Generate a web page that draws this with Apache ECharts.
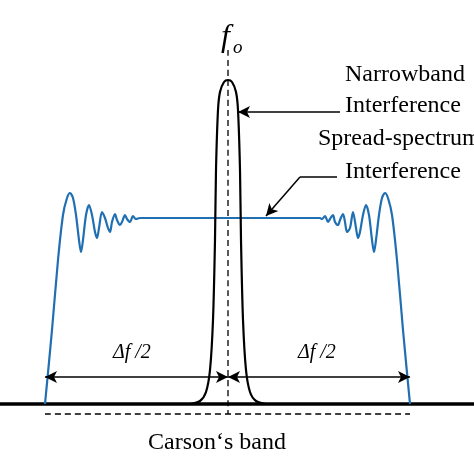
<!DOCTYPE html>
<html>
<head>
<meta charset="utf-8">
<script src="https://cdn.jsdelivr.net/npm/echarts@6/dist/echarts.min.js"></script>
<style>html,body{margin:0;background:#fff}#c{width:474px;height:474px}</style>
</head>
<body>
<div id="c"></div>
<script>
// 扩频干扰（蓝线），坐标 [x, y]，y 从上往下
var spreadLeft = [[45,404],[52,330],[58,260],[63,215],[67,198],[70,193],[73,198],[76,215],[79,240],[81,252],[83,240],[86,215],[89,205],[92,215],[95,232],[97,238],[99,228],[102,212],[105,218],[108,228],[110,232],[112,222],[115,214],[117,220],[120,225],[122,222],[125,215],[127,219],[130,222],[133,216],[136,219],[140,218],[145,218]];
var spreadMid = [[145,218],[315,218]];
var spreadRight = [[315,218],[320,218],[322,219],[325,216],[328,222],[330,219],[333,215],[335,222],[338,225],[340,220],[343,214],[345,222],[347,232],[350,228],[353,212],[356,228],[358,238],[360,232],[363,215],[366,205],[369,215],[372,240],[374,252],[376,240],[379,215],[382,198],[385,193],[388,198],[392,215],[397,260],[403,330],[410,404]];
// 窄带干扰（黑线）
var narrow = [[190,404],[200,401],[206,392],[210,370],[213,320],[215,240],[216,170],[218,110],[220,92],[224,82],[228,80],[232,82],[236,92],[238,110],[240,170],[241,240],[243,320],[246,370],[250,392],[256,401],[266,404]];
var baseLine = [[0,404],[474,404]];
var centerLine = [[228,50],[228,414]];
var bandLine = [[45,414],[410,414]];

var chart = echarts.init(document.getElementById('c'));
function ln(data, color, w, type) {
  return { type: 'line', data: data, symbol: 'none', smooth: 0.3, animation: false,
    lineStyle: { color: color, width: w, type: type || 'solid' } };
}
var arrows = {
  type: 'line', data: [], animation: false,
  markLine: {
    silent: true, symbol: ['arrow', 'arrow'], symbolSize: [9, 12],
    lineStyle: { color: '#000', width: 1.5, type: 'solid' }, label: { show: false },
    data: [
      [{ coord: [45, 377] }, { coord: [228, 377] }],
      [{ coord: [228, 377] }, { coord: [410, 377] }],
      [{ coord: [340, 112], symbol: 'none' }, { coord: [238, 112] }],
      [{ coord: [337, 177], symbol: 'none' }, { coord: [300, 177], symbol: 'none' }],
      [{ coord: [300, 177], symbol: 'none' }, { coord: [266, 216] }]
    ]
  }
};
var f = '"Liberation Serif", serif';
function txt(x, y, s, size, italic) {
  return { type: 'text', left: x, top: y, style: { text: s, font: (italic ? 'italic ' : '') + size + 'px ' + f, fill: '#000' } };
}
chart.setOption({
  animation: false,
  grid: { left: 0, right: 0, top: 0, bottom: 0 },
  xAxis: { type: 'value', min: 0, max: 474, show: false },
  yAxis: { type: 'value', min: 0, max: 474, inverse: true, show: false },
  series: [
    ln(baseLine, '#000', 3.5),
    ln(centerLine, '#000', 1.3, [6, 4]),
    ln(bandLine, '#000', 1.3, [6, 4]),
    ln(spreadLeft, '#1f6fb2', 2.2),
    ln(spreadMid, '#1f6fb2', 2.2),
    ln(spreadRight, '#1f6fb2', 2.2),
    ln(narrow, '#000', 2.2),
    arrows
  ],
  graphic: [
    txt(221, 22, 'f', 32, true),
    txt(233, 38, 'o', 19, true),
    txt(345, 63, 'Narrowband', 24),
    txt(345, 94, 'Interference', 24),
    txt(318, 127, 'Spread-spectrum', 24),
    txt(345, 160, 'Interference', 24),
    txt(113, 343, 'Δf /2', 20, true),
    txt(298, 343, 'Δf /2', 20, true),
    txt(148, 431, 'Carson‘s band', 24)
  ]
});
</script>
</body>
</html>
